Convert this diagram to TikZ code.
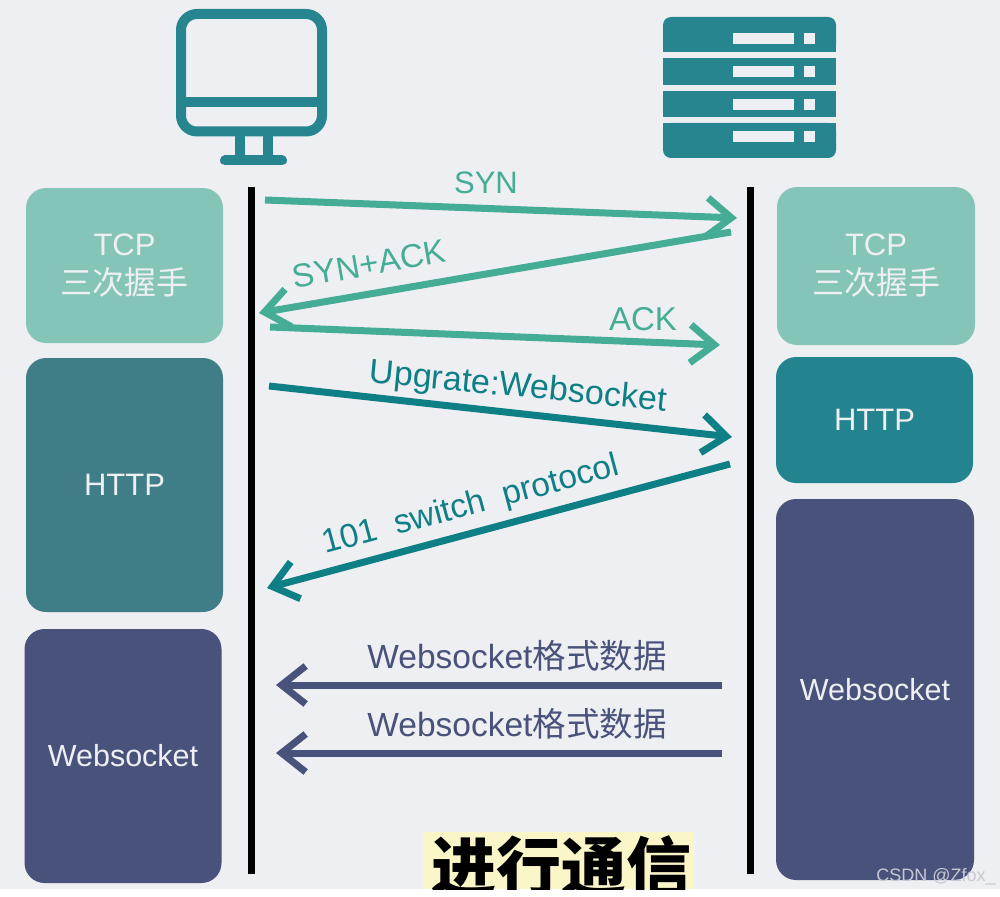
\documentclass[tikz,border=0pt]{standalone}
\usepackage{fontspec}
\setmainfont{Liberation Sans}
\newfontfamily\cjk{Noto Sans CJK SC}
\usetikzlibrary{arrows.meta}
\definecolor{bgc}{HTML}{EEEFF3}
\definecolor{tcpc}{HTML}{85C5B8}
\definecolor{httpl}{HTML}{3F7D87}
\definecolor{httpr}{HTML}{23848F}
\definecolor{wsc}{HTML}{48527A}
\definecolor{icon}{HTML}{27858F}
\definecolor{greena}{HTML}{45AC96}
\definecolor{teala}{HTML}{0F7F86}
\definecolor{wsa}{HTML}{48527A}
\definecolor{hl}{HTML}{FBF6C8}
\definecolor{wmark}{HTML}{C6C9D3}
\tikzset{
 box/.style={rounded corners=20pt,inner sep=0pt,text=bgc,align=center,font=\fontsize{31}{36}\selectfont},
 wsbox/.style={box,font=\fontsize{30.5}{36}\selectfont},
 life/.style={line width=7pt,black},
 tip/.style={-{Straight Barb[length=24pt,width=38pt,line width=7pt]}},
 arr/.style={tip,line width=7pt},
 lab/.style={inner sep=0pt},
 iconl/.style={draw=icon,line width=10pt},
}
\begin{document}
\begin{tikzpicture}[x=1pt,y=-1pt]
\useasboundingbox (0,0) rectangle (1000,896);
\fill[white] (0,0) rectangle (1000,896);
\fill[bgc] (0,0) rectangle (1000,889);
% computer icon
\draw[iconl,rounded corners=16pt] (181,14) rectangle (322,131.5);
\draw[iconl] (181,102.5) -- (322,102.5);
\draw[iconl] (240,131.5) -- (240,160);
\draw[iconl] (268,131.5) -- (268,160);
\draw[iconl,line cap=round] (225,160.5) -- (282,160.5);
% server icon
\fill[icon,rounded corners=8pt] (663,17) rectangle (836,52);
\fill[icon] (663,40) rectangle (836,52);
\fill[icon] (663,58) rectangle (836,85);
\fill[icon] (663,91) rectangle (836,117);
\fill[icon,rounded corners=8pt] (663,123) rectangle (836,158);
\fill[icon] (663,123) rectangle (836,140);
\foreach \y in {33,66,99,131} {
  \fill[bgc] (733,\y) rectangle (794,\y+11);
  \fill[bgc] (804,\y) rectangle (815,\y+11);
}
% lifelines
\coordinate (lt) at (251,187); \coordinate (lb) at (251,874);
\coordinate (rt) at (750,187); \coordinate (rb) at (750,874);
\draw[life] (lt) -- (lb);
\draw[life] (rt) -- (rb);
% boxes
\node[box,fill=tcpc,minimum width=197pt,minimum height=155pt] (tcpL) at (124.5,265.5) {TCP\\[3pt]{\cjk\fontsize{32}{36}\selectfont 三次握手}};
\node[box,fill=httpl,minimum width=197pt,minimum height=254pt] (httpL) at (124.5,485) {HTTP};
\node[wsbox,fill=wsc,minimum width=197pt,minimum height=254pt] (wsL) at (123,756) {Websocket};
\node[box,fill=tcpc,minimum width=198pt,minimum height=158pt] (tcpR) at (876,266) {TCP\\[3pt]{\cjk\fontsize{32}{36}\selectfont 三次握手}};
\node[box,fill=httpr,minimum width=197pt,minimum height=126pt] (httpR) at (874.5,420) {HTTP};
\node[wsbox,fill=wsc,minimum width=198pt,minimum height=381pt] (wsR) at (875,689.5) {Websocket};
% arrow end points
\coordinate (a1s) at (265,200); \coordinate (a1e) at (737,218);
\coordinate (a2s) at (731,232); \coordinate (a2e) at (259,313);
\coordinate (a3s) at (270,327); \coordinate (a3e) at (720,345);
\coordinate (a4s) at (269,386); \coordinate (a4e) at (732,437);
\coordinate (a5s) at (730,464); \coordinate (a5e) at (267,588);
\coordinate (a6s) at (722,685); \coordinate (a6e) at (276,685);
\coordinate (a7s) at (722,753); \coordinate (a7e) at (276,753);
\draw[arr,greena] (a1s) -- (a1e);
\draw[arr,greena] (a2s) -- (a2e);
\draw[arr,greena] (a3s) -- (a3e);
\draw[arr,teala] (a4s) -- (a4e);
\draw[arr,teala] (a5s) -- (a5e);
\draw[arr,wsa] (a6s) -- (a6e);
\draw[arr,wsa] (a7s) -- (a7e);
% labels
\node[lab,text=greena,font=\fontsize{31}{36}\selectfont] (syn) at (486,183) {SYN};
\node[lab,text=greena,rotate=10,font=\fontsize{33}{36}\selectfont] (synack) at (369,264) {SYN+ACK};
\node[lab,text=greena,font=\fontsize{33}{36}\selectfont] (ack) at (643,319) {ACK};
\node[lab,text=teala,rotate=-5.5,font=\fontsize{34}{36}\selectfont] (up) at (518,388) {Upgrate:Websocket};
\node[lab,text=teala,rotate=15,font=\fontsize{33.5}{36}\selectfont] (sw) at (471,506) {101 \ switch \ protocol};
\node[lab,text=wsa,font=\fontsize{33.5}{36}\selectfont] (w1) at (517,656) {Websocket{\cjk 格式数据}};
\node[lab,text=wsa,font=\fontsize{33.5}{36}\selectfont] (w2) at (517,724) {Websocket{\cjk 格式数据}};
% highlighted caption
\begin{scope}
\clip (423,832) rectangle (694,889);
\fill[hl] (423,832) rectangle (694,889);
\node[inner sep=0pt,font=\cjk\bfseries\fontsize{65}{70}\selectfont,text=black] (cap) at (561,867) {进行通信};
\end{scope}
\node[inner sep=0pt,text=wmark,font=\fontsize{18}{20}\selectfont] (wm) at (936,877) {CSDN @Zfox\_};
\end{tikzpicture}
\end{document}
